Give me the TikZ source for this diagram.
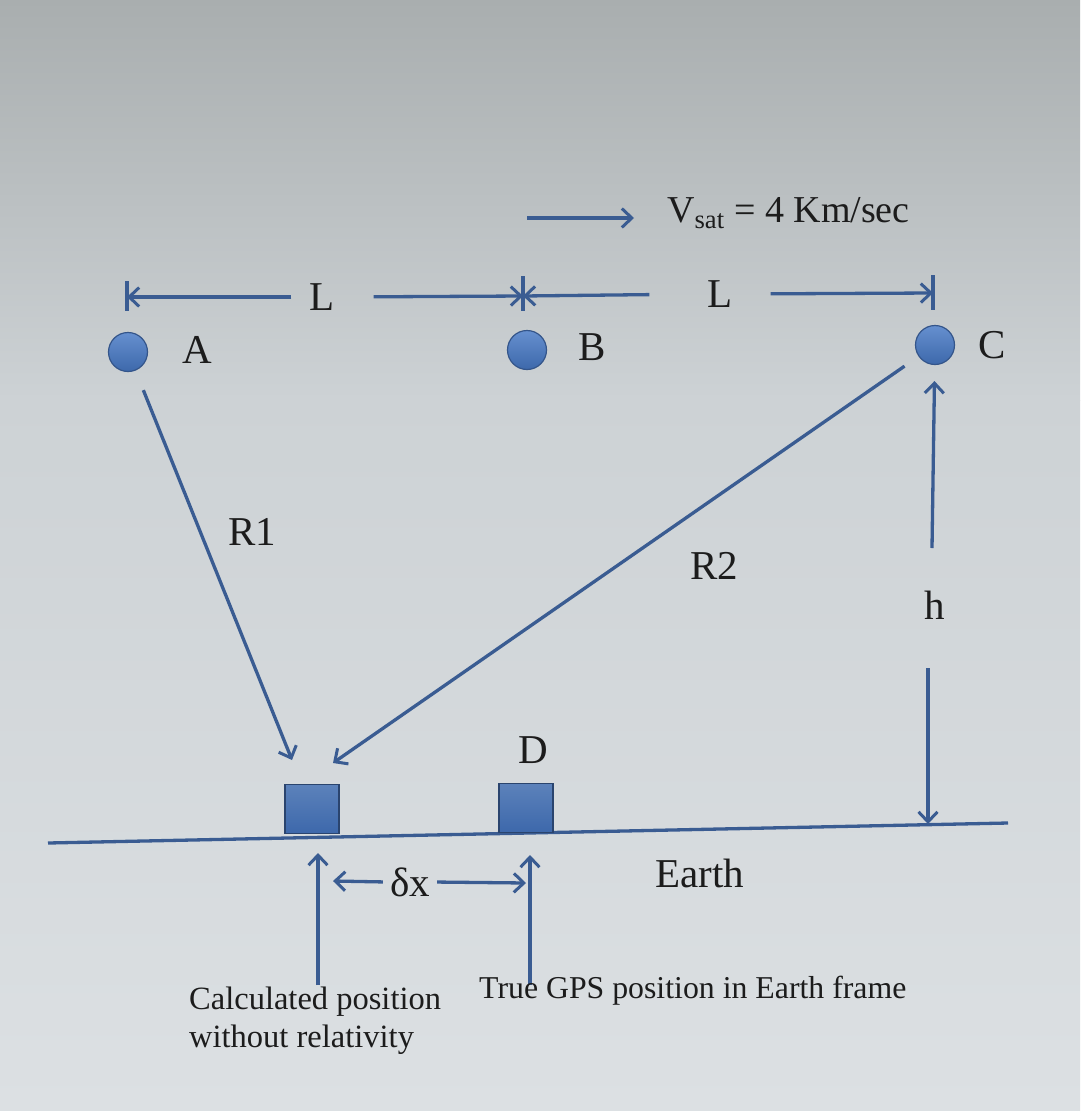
\documentclass[tikz,border=0pt]{standalone}
\usepackage{fontspec}
\setmainfont{Liberation Serif}
\usetikzlibrary{arrows.meta,calc}
\definecolor{lineblue}{HTML}{3A5C92}
\definecolor{fillhi}{HTML}{6690CF}
\definecolor{filllo}{HTML}{3D68AB}
\definecolor{edgeblue}{HTML}{34558A}
\definecolor{txt}{HTML}{1C1C1C}
\definecolor{bgtop}{HTML}{A9AEAF}
\definecolor{bgmid}{HTML}{CDD2D5}
\definecolor{bgbot}{HTML}{DCE0E3}
\tikzset{
  conn/.style={draw=lineblue, line width=3.3pt},
  arr/.style={conn, -{Straight Barb[length=10pt,width=19pt,line width=3pt]}},
  sat/.style={circle, minimum size=39pt, inner sep=0pt, top color=fillhi, bottom color=filllo, draw=edgeblue, line width=1.2pt},
  station/.style={rectangle, minimum width=54pt, minimum height=49pt, inner sep=0pt, top color=fillhi!90!black, bottom color=filllo, draw=edgeblue!80!black, line width=1.4pt},
  lbl/.style={text=txt, font=\fontsize{41}{48}\selectfont, inner sep=3pt},
  smalllbl/.style={text=txt, font=\fontsize{32.5}{38}\selectfont, inner sep=0pt, align=left},
}
\begin{document}
\begin{tikzpicture}[x=1pt,y=-1pt]
\useasboundingbox (0,0) rectangle (1080,1111);
% background
\shade[top color=bgtop, bottom color=bgmid] (0,0) rectangle (1080,400);
\shade[top color=bgmid, bottom color=bgbot] (0,400) rectangle (1080,1111);

% satellites
\node[sat] (A) at (128,352) {};
\node[sat] (B) at (527,350) {};
\node[sat] (C) at (935,345) {};
\node[lbl] (lA) at (197,350) {A};
\node[lbl] (lB) at (592,347) {B};
\node[lbl] (lC) at (992,345) {C};

% velocity
\coordinate (v0) at (527,218);
\node[lbl, anchor=west, font=\fontsize{38}{44}\selectfont] (vsat) at (664,213) {V\textsubscript{sat} = 4 Km/sec};
\draw[arr] (v0) -- ($(vsat.west)+(-30,5)$);

% dimension lines
\coordinate (tA1) at (127,281); \coordinate (tA2) at (127,311);
\coordinate (tB1) at (523,276); \coordinate (tB2) at (523,311);
\coordinate (tC1) at (933,275); \coordinate (tC2) at (933,310);
\draw[conn] (tA1) -- (tA2);
\draw[conn] (tB1) -- (tB2);
\draw[conn] (tC1) -- (tC2);
\coordinate (tA) at (127,297);
\coordinate (tB) at (523,296);
\coordinate (tC) at (933,293);
\node[lbl] (L1) at (322,297) {L};
\node[lbl] (L2) at (720,294) {L};
\draw[arr, shorten <=15pt] (L1.west) -- (tA);
\draw[arr, shorten <=36pt] (L1.east) -- (tB);
\draw[arr, shorten <=55pt] (L2.west) -- (tB);
\draw[arr, shorten <=35pt] (L2.east) -- (tC);

% Earth
\coordinate (E0) at (48,843);
\coordinate (E1) at (1008,823);
\draw[conn] (E0) -- (E1);
\node[station] (S1) at (312,809) {};
\node[station] (S2) at (526,808) {};
\node[lbl] (lD) at (533,750) {D};
\node[lbl] (earth) at (700,873) {Earth};

% ranges
\coordinate (tipR1) at (292,760);
\coordinate (tipR2) at (333,763);
\draw[arr, shorten <=21pt] (A) -- (tipR1);
\draw[arr, shorten <=17pt] (C) -- (tipR2);
\node[lbl] (R1) at (252,532) {R1};
\node[lbl] (R2) at (714,566) {R2};

% height
\node[lbl] (h) at (935,605) {h};
\coordinate (hup) at (932,548);
\coordinate (hlow) at (928,668);
\coordinate (hbase) at (928,824);
\draw[arr, shorten >=36pt] (hup) -- (C.center);
\draw[arr] (hlow) -- (hbase);

% position pointers
\coordinate (p1b) at (318,985); \coordinate (p1t) at (318,853);
\coordinate (p2b) at (530,985); \coordinate (p2t) at (530,855);
\draw[arr] (p1b) -- (p1t);
\draw[arr] (p2b) -- (p2t);

% delta x
\node[lbl] (dx) at (410,882) {δx};
\coordinate (dxl) at (333,881);
\coordinate (dxr) at (526,883);
\draw[arr, shorten <=4pt] (dx.west) -- (dxl);
\draw[arr, shorten <=4pt] (dx.east) -- (dxr);

% captions
\node[smalllbl, anchor=west] (calc) at (189,1021) {Calculated position\\without relativity};
\node[smalllbl, anchor=west, font=\fontsize{31.8}{38}\selectfont] (truepos) at (479,991) {True GPS position in Earth frame};
\end{tikzpicture}
\end{document}
